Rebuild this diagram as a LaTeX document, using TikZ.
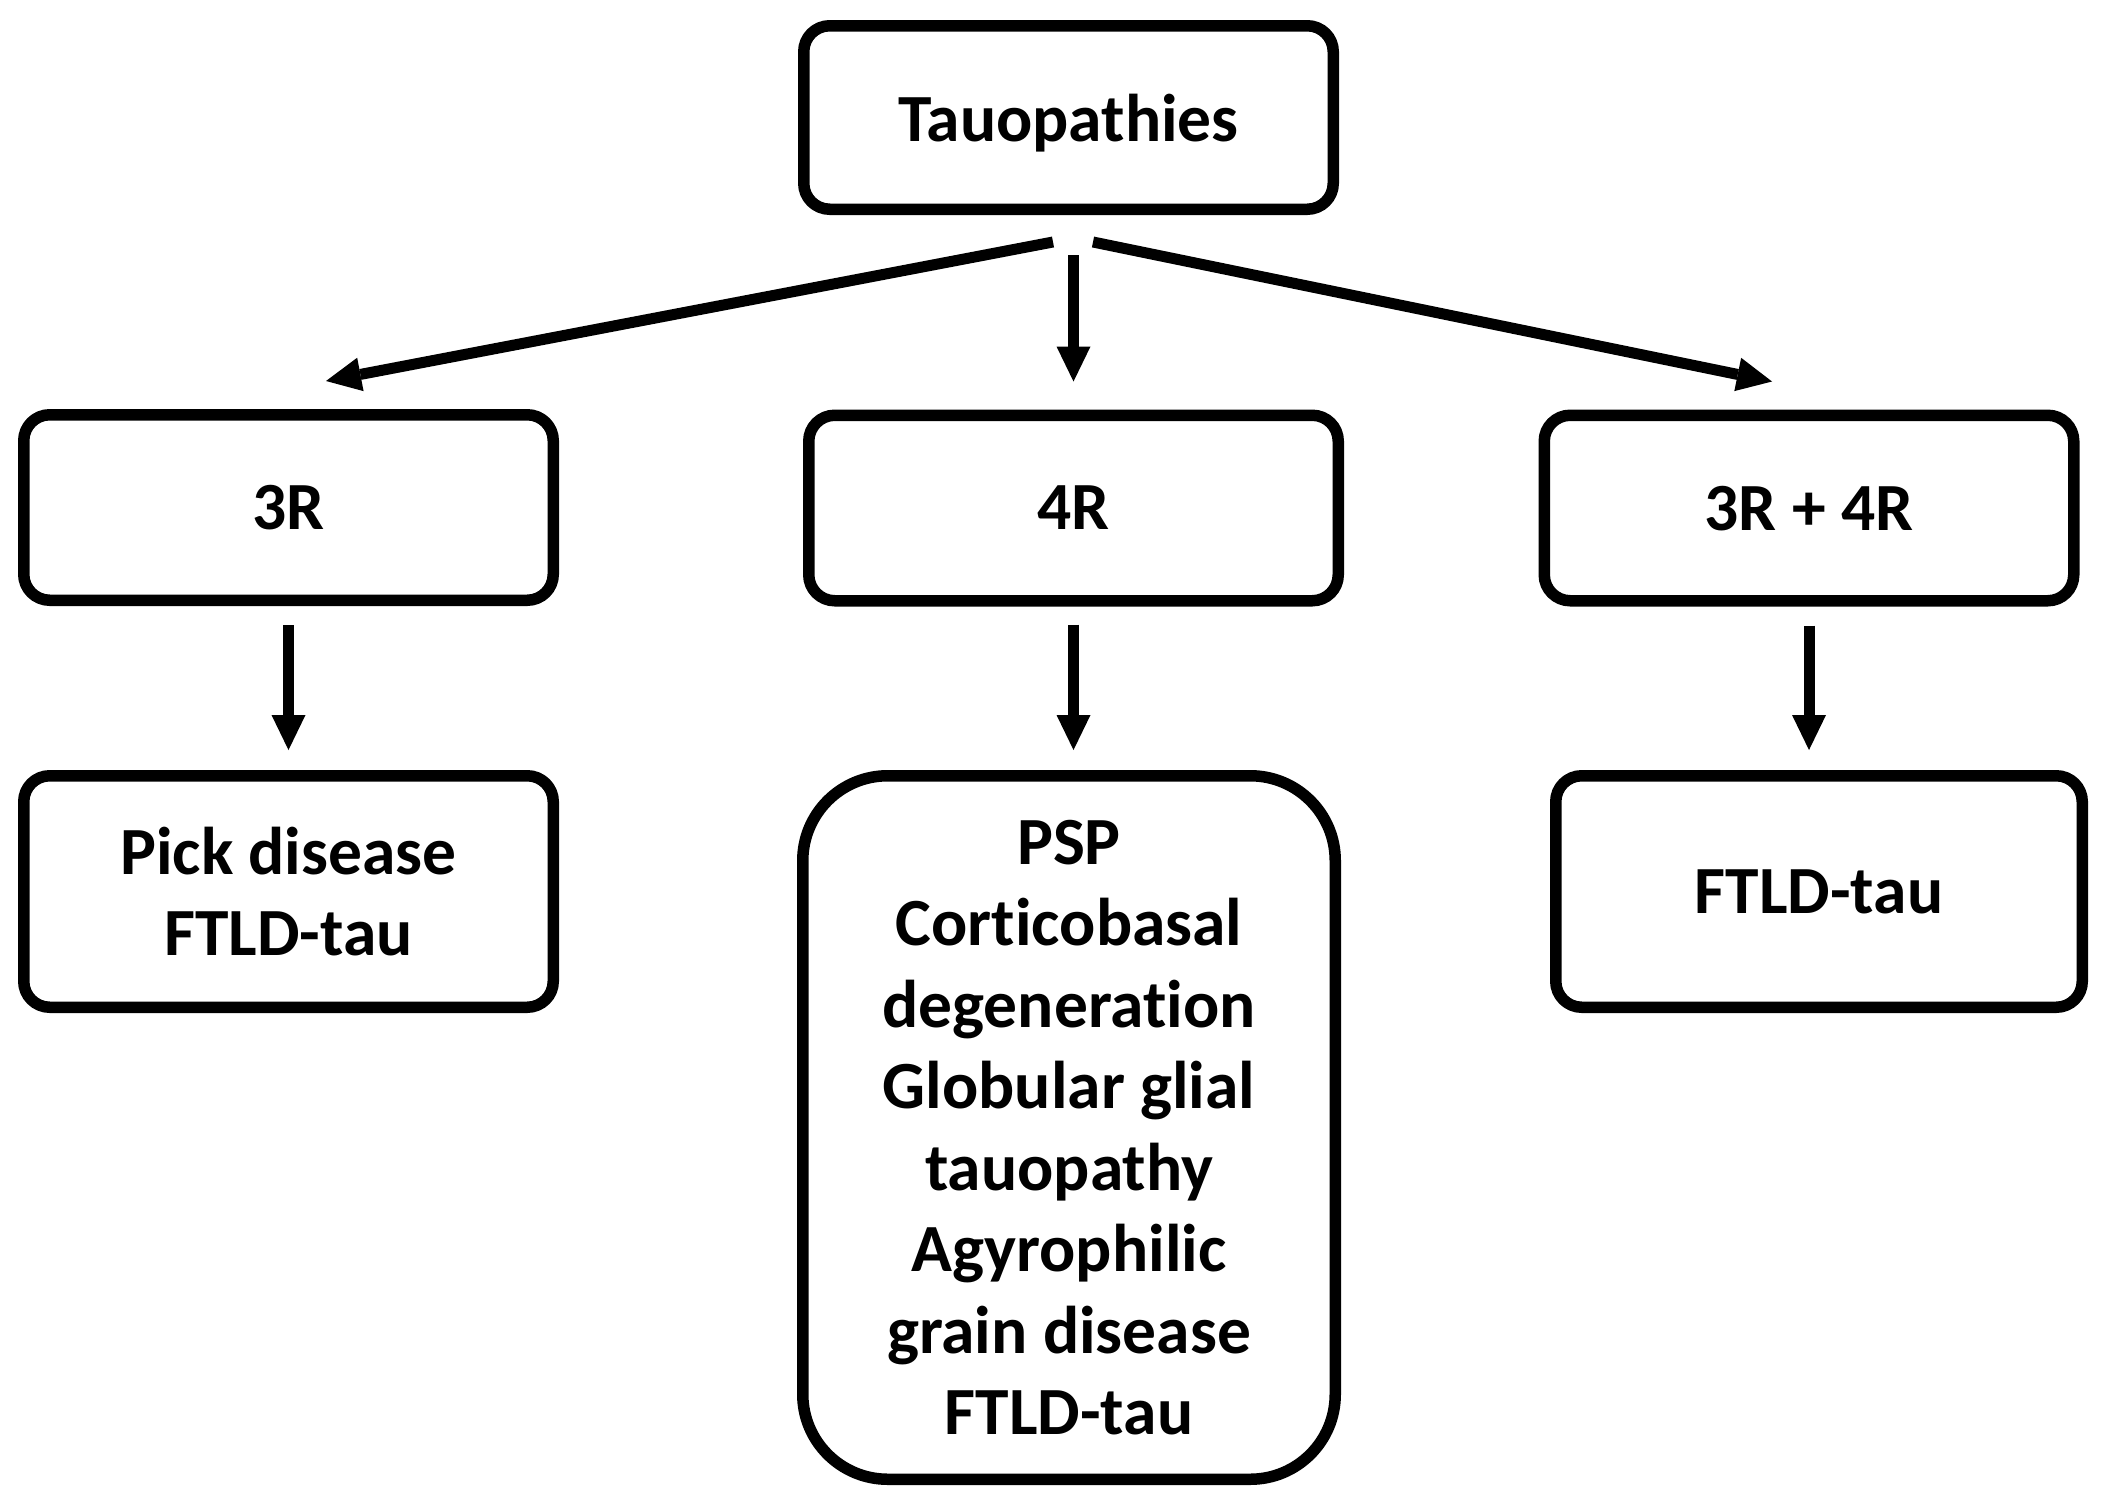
\documentclass[tikz,border=0pt]{standalone}
\usepackage{fontspec}
\setmainfont{Carlito}[Ligatures={NoCommon}]
\usetikzlibrary{arrows.meta}
\begin{document}
\begin{tikzpicture}[x=1pt,y=-1pt,
  box/.style={draw=black, line width=11.5pt, rounded corners=26pt, align=center,
    font=\fontsize{67.5pt}{81.5pt}\selectfont\bfseries, inner sep=0pt},
  onebox/.style={box, text depth=0pt},
  rowbox/.style={onebox, minimum width=529.5pt, minimum height=185.5pt},
  arr/.style={draw=black, line width=11pt,
    -{Triangle[length=35pt,width=34pt,line width=0pt]}}
]
\useasboundingbox (0,0) rectangle (2103,1507);

\node[onebox, minimum width=529.5pt, minimum height=183.5pt] (top) at (1068.5,117.5) {Tauopathies};
\node[rowbox] (r3) at (288.5,507.5) {3R};
\node[rowbox] (r4) at (1073.5,508) {4R};
\node[rowbox] (r34) at (1809,508) {3R + 4R};
\node[box, minimum width=529.5pt, minimum height=231.5pt] (pick) at (288.5,891.5) {Pick disease\\FTLD-tau};
\node[box, rounded corners=85pt, minimum width=532.5pt, minimum height=703.5pt] (psp) at (1069,1127.5)
  {PSP\\Corticobasal\\degeneration\\Globular glial\\tauopathy\\Agyrophilic\\grain disease\\FTLD-tau};
\node[onebox, minimum width=526.5pt, minimum height=231.5pt] (ftld) at (1819,891.5) {FTLD-tau};

\coordinate (c0) at ([yshift=-40pt]top.south);
\draw[arr] ([xshift=-15.5pt,yshift=-27pt]top.south) -- ([xshift=37.5pt,yshift=28pt]r3.north);
\draw[arr] (c0 -| r4.north) -- ([yshift=28pt]r4.north);
\draw[arr] ([xshift=24.5pt,yshift=-27pt]top.south) -- ([xshift=-37pt,yshift=28pt]r34.north);

\coordinate (c1) at ([yshift=20pt]pick.north);
\coordinate (c2) at ([yshift=20pt]psp.north);
\coordinate (c3) at ([yshift=20pt]ftld.north);
\draw[arr] ([yshift=-19pt]r3.south) -- (c1);
\draw[arr] ([yshift=-18pt]r4.south) -- (c2 -| r4.south);
\draw[arr] ([yshift=-19pt]r34.south) -- (c3 -| r34.south);
\end{tikzpicture}
\end{document}
